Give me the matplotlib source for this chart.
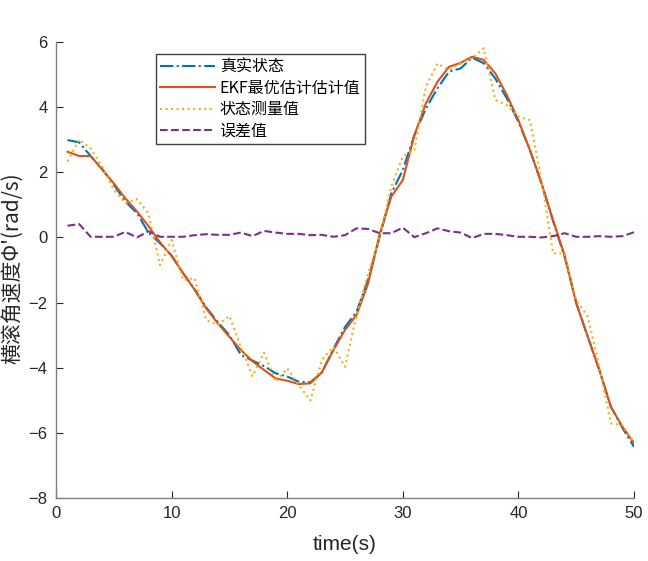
import numpy as np
import matplotlib
matplotlib.use('Agg')
import matplotlib.pyplot as plt

plt.rcParams['font.family'] = ['Liberation Sans', 'Noto Sans CJK SC', 'DejaVu Sans']

# data
t = np.arange(1, 51)

true_state = [2.99, 2.92, 2.50, 2.10, 1.62, 1.10, 0.75, 0.15, -0.18, -0.55,
              -1.10, -1.60, -2.15, -2.60, -3.00, -3.61, -3.78, -3.95, -4.17, -4.27,
              -4.43, -4.45, -4.15, -3.42, -2.75, -2.28, -1.30, 0.02, 1.35, 2.07,
              3.14, 3.96, 4.58, 5.09, 5.19, 5.52, 5.35, 4.88, 4.27, 3.55,
              2.68, 1.66, 0.50, -0.60, -2.00, -3.05, -4.07, -5.20, -5.85, -6.43]

ekf_est = [2.63, 2.50, 2.50, 2.08, 1.66, 1.20, 0.80, 0.35, -0.15, -0.57,
           -1.10, -1.61, -2.18, -2.64, -3.05, -3.46, -3.80, -4.07, -4.33, -4.40,
           -4.50, -4.48, -4.14, -3.46, -2.84, -2.38, -1.41, 0.10, 1.25, 1.76,
           3.14, 4.12, 4.78, 5.24, 5.36, 5.55, 5.45, 5.04, 4.37, 3.60,
           2.68, 1.66, 0.53, -0.55, -2.02, -3.05, -4.07, -5.20, -5.81, -6.32]

measured = [2.33, 3.01, 2.73, 2.17, 1.46, 1.05, 1.18, 0.74, -0.85, -0.08,
            -1.31, -1.25, -2.54, -2.69, -2.41, -3.36, -4.26, -3.54, -4.43, -4.02,
            -4.53, -5.01, -3.76, -3.36, -3.97, -2.38, -1.10, 0.02, 1.56, 2.48,
            2.68, 4.63, 5.34, 5.14, 5.34, 5.50, 5.81, 4.22, 4.06, 3.71,
            3.60, 1.76, -0.49, -0.49, -1.92, -2.43, -3.97, -5.71, -5.76, -6.30]

error = [0.36, 0.41, 0.02, 0.02, 0.02, 0.17, 0.00, 0.19, 0.02, 0.02,
         0.02, 0.07, 0.10, 0.08, 0.08, 0.15, 0.04, 0.20, 0.15, 0.11,
         0.11, 0.07, 0.08, 0.02, 0.07, 0.28, 0.26, 0.13, 0.13, 0.30,
         0.01, 0.13, 0.28, 0.19, 0.15, -0.02, 0.11, 0.11, 0.07, 0.02,
         0.02, 0.00, 0.04, 0.13, 0.02, 0.02, 0.04, 0.02, 0.04, 0.16]

labels = ['真实状态', 'EKF最优估计估计值', '状态测量值', '误差值']

fig = plt.figure(figsize=(6.48, 5.61), dpi=100)
ax = fig.add_axes([0.0864, 0.1123, 0.892, 0.8128])

ax.plot(t, true_state, '-.', color='#0072BD', lw=1.5, label=labels[0])
ax.plot(t, ekf_est, '-', color='#D95319', lw=1.5, label=labels[1])
ax.plot(t, measured, ':', color='#EDB120', lw=1.5, label=labels[2])
ax.plot(t, error, '--', color='#7E2F8E', lw=1.5, label=labels[3])

ax.set_xlim(0, 50)
ax.set_ylim(-8, 6)
ax.set_xticks(np.arange(0, 51, 10))
ax.set_yticks(np.arange(-8, 7, 2))

for s in ['top', 'right']:
    ax.spines[s].set_visible(False)
for s in ['left', 'bottom']:
    ax.spines[s].set_color('#808080')
    ax.spines[s].set_linewidth(1.0)
ax.tick_params(direction='in', length=5, width=0.8, color='#262626',
               labelsize=12, labelcolor='#262626', pad=6)

ax.set_xlabel('time(s)', fontsize=15, color='#262626', labelpad=10)
ax.set_ylabel("横滚角速度Φ'(rad/s)", fontsize=15, color='#262626',
              family=['Noto Sans CJK SC', 'DejaVu Sans'])
ax.yaxis.set_label_coords(-0.057, 0.504)

leg = ax.legend(loc='upper left', bbox_to_anchor=(0.1725, 0.974), borderaxespad=0,
                fancybox=False, edgecolor='#404040', framealpha=1,
                prop={'family': ['Noto Sans CJK SC', 'DejaVu Sans'], 'size': 11.5},
                handlelength=3.4, handletextpad=0.3, labelspacing=0.27,
                borderpad=0.3)
leg.get_frame().set_linewidth(1.0)

fig.savefig('out.png', dpi=100)
